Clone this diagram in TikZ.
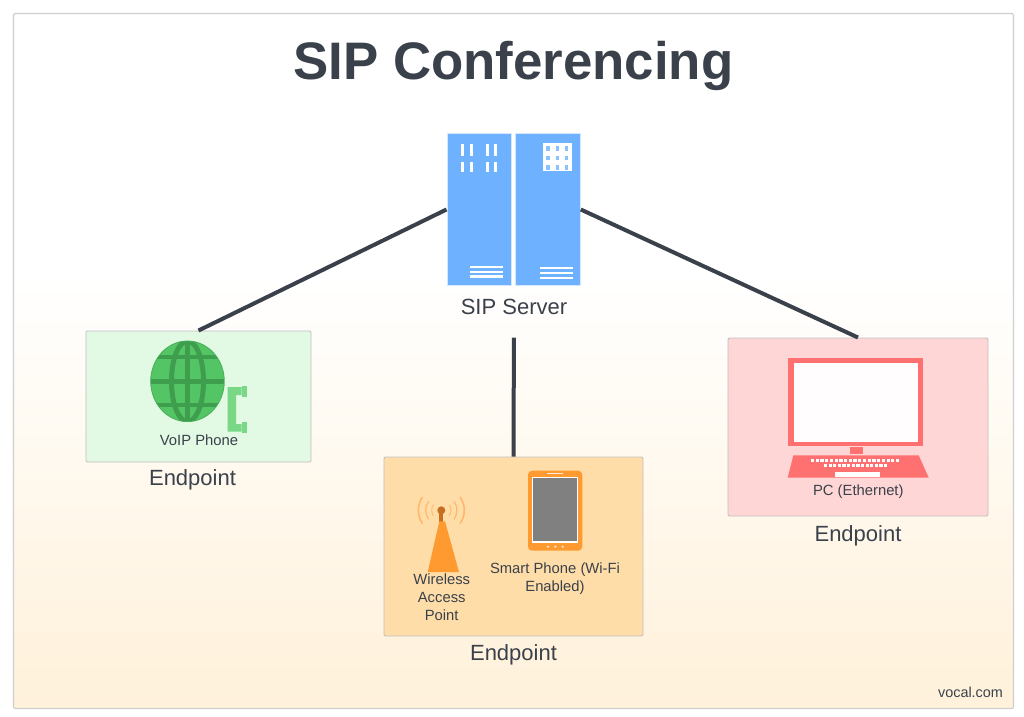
\documentclass[tikz,border=0pt]{standalone}
\usepackage{fontspec}
\setmainfont{Liberation Sans}
\usetikzlibrary{positioning}

\definecolor{ink}{HTML}{3A414A}
\definecolor{frameLine}{HTML}{CFCFCF}
\definecolor{cream}{HTML}{FFF1DA}
\definecolor{serverBlue}{HTML}{6DB1FF}
\definecolor{voipFill}{HTML}{E2F9E3}
\definecolor{globeGreen}{HTML}{54C565}
\definecolor{globeDark}{HTML}{3E9E4E}
\definecolor{handsetGreen}{HTML}{78D885}
\definecolor{wifiFill}{HTML}{FFDDA8}
\definecolor{orangeIcon}{HTML}{FF9A30}
\definecolor{orangeDark}{HTML}{C6701F}
\definecolor{orangeWave}{HTML}{FFB76B}
\definecolor{screenGrey}{HTML}{808080}
\definecolor{pcFill}{HTML}{FFD6D6}
\definecolor{pcRed}{HTML}{FF7070}

\pgfdeclareverticalshading{frameGradient}{100bp}{color(0bp)=(cream); color(25bp)=(cream); color(56bp)=(white); color(100bp)=(white)}

\tikzset{
  rack/.style={fill=serverBlue,draw=white!70!serverBlue,line width=0.6pt,minimum width=48.6pt,minimum height=113.6pt,inner sep=0pt},
  endpointBox/.style={draw=black!25,line width=0.7pt,rounded corners=1pt,inner sep=0pt},
  caption/.style={text=ink,font=\fontsize{16.5}{19}\selectfont,inner sep=0pt},
  smallCaption/.style={text=ink,font=\fontsize{11.1}{13.3}\selectfont,align=center,inner sep=0pt},
  link/.style={draw=ink,line width=3pt}
}

\begin{document}
\begin{tikzpicture}[x=0.75pt,y=-0.75pt]
  \useasboundingbox (0,0) rectangle (1024,717);
  \fill[white] (0,0) rectangle (1024,717);
  \path[shading=frameGradient,rounded corners=1.5pt] (13.5,13.5) rectangle (1013.5,708.5);
  \draw[frameLine,line width=0.9pt,rounded corners=1.5pt] (13.5,13.5) rectangle (1013.5,708.5);

  \node (title)
        [text=ink,font=\fontsize{39.6}{45}\selectfont\bfseries,inner sep=0pt]
        at (513.3,66) {SIP Conferencing};
  \node (vocalMark)
        [text=ink,font=\fontsize{10.8}{13}\selectfont,inner sep=0pt]
        at (970.5,692) {vocal.com};

  \node (rackLeft)  [rack] at (479.3,209.5) {};
  \node (rackRight) [rack] at (548,209.5) {};
  \node (serverLabel)
        [caption]
        at (514,307) {SIP Server};

  \node (voipBox)
        [endpointBox,fill=voipFill,minimum width=168.75pt,minimum height=98.25pt]
        at (198.5,396.5) {};
  \node (wifiBox)
        [endpointBox,fill=wifiFill,minimum width=194.25pt,minimum height=134.25pt]
        at (513.5,546.5) {};
  \node (pcBox)
        [endpointBox,fill=pcFill,minimum width=195pt,minimum height=133.5pt]
        at (858,427) {};

  \node (voipEndpoint) [caption] at (192.5,480) {Endpoint};
  \node (wifiEndpoint) [caption] at (513.5,655) {Endpoint};
  \node (pcEndpoint)   [caption] at (858,536) {Endpoint};

  \draw[link] (rackLeft.west) -- (voipBox.north);
  \draw[link] (rackRight.east) -- (pcBox.north);
  \draw[link,shorten <=17pt] (serverLabel.south) -- (wifiBox.north);

  % left rack
  \foreach \x in {461,469.5,485.7,493.5}
    \foreach \y/\h in {144/11.7,161.7/10}
      \fill[white] (\x,\y) rectangle ++(3.3,\h);
  \foreach \y in {265.5,270.7,275.3}
    \fill[white] (470.3,\y) rectangle ++(32.4,2.2);
  % right rack
  \fill[white] (543,143.3) rectangle (572,171);
  \foreach \x in {546.3,556,565}
    \foreach \y in {146,155.7,165}
      \fill[serverBlue!80!white] (\x,\y) rectangle ++(3.3,4.7);
  \foreach \y in {266.5,271.5,276.5}
    \fill[white] (540.3,\y) rectangle ++(33,2.2);

  % globe
  \begin{scope}
    \clip (187.5,381.3) ellipse [x radius=36.8,y radius=40.3];
    \fill[globeGreen] (187.5,381.3) ellipse [x radius=36.8,y radius=40.3];
    \draw[globeDark,line width=3.7pt] (187.5,330) -- (187.5,430);
    \draw[globeDark,line width=3.7pt] (187.5,381.3) ellipse [x radius=16,y radius=40.3];
    \draw[globeDark,line width=3.7pt] (150,381.5) -- (225,381.5);
    \draw[globeDark,line width=3pt] (150,356.7) -- (225,356.7);
    \draw[globeDark,line width=3pt] (150,404.5) -- (225,404.5);
  \end{scope}
  \draw[globeDark!60!globeGreen,line width=0.6pt] (187.5,381.3) ellipse [x radius=36.8,y radius=40.3];
  % handset
  \fill[handsetGreen] (227.7,387) -- (241.7,387) -- (241.7,395) -- (236,395) -- (236,424)
    -- (241.7,424) -- (241.7,431.7) -- (227.7,431.7) -- cycle;
  \fill[handsetGreen] (241.7,385.7) rectangle (246.7,396.7);
  \fill[handsetGreen] (241.7,421.7) rectangle (246.7,433.3);
  \node (voipLabel) [smallCaption] at (199,440) {VoIP Phone};

  % access point
  \foreach \r/\w in {9.6/0.6,15.6/0.9,23/1.2} {
    \draw[orangeWave,line width=\w pt] (441.3,510.3) ++(-35:\r) arc (-35:35:\r);
    \draw[orangeWave,line width=\w pt] (441.3,510.3) ++(145:\r) arc (145:215:\r);
  }
  \fill[orangeDark] (439.3,510.3) rectangle (443.3,522);
  \fill[orangeDark] (441.3,510.3) circle [radius=4];
  \fill[orangeIcon] (439.3,521.3) -- (445,521.3) -- (459,572) -- (427.7,572) -- cycle;
  \node (apLabel) [smallCaption] at (441.7,597) {Wireless\\Access\\Point};

  % smart phone
  \fill[orangeIcon,rounded corners=3pt] (528,470.7) rectangle (582.3,550.7);
  \fill[white] (532,476.7) rectangle (578.3,542.7);
  \fill[screenGrey] (533.3,478) rectangle (577,541.3);
  \fill[white!85!orangeIcon] (546.7,472.6) rectangle (563.3,474);
  \foreach \x in {548,555.3,562.7}
    \fill[white!85!orangeIcon] (\x,546.7) circle [radius=1.2];
  \node (phoneLabel) [smallCaption] at (555,579) {Smart Phone (Wi-Fi\\Enabled)};

  % laptop
  \fill[pcRed] (788.3,357.7) rectangle (923,446);
  \fill[white!95!pcFill] (794.3,363) rectangle (917.7,442.3);
  \fill[pcRed] (850,447) rectangle (862.7,454);
  \fill[pcRed] (793.3,455.3) -- (918.7,455.3) -- (928.7,477.7) -- (787.7,477.7) -- cycle;
  \foreach \i in {0,...,18}
    \fill[white] ({811+\i*4.72},459.3) rectangle ++(3.2,2.9);
  \foreach \i in {0,...,13}
    \fill[white] ({824+\i*4.62},464.3) rectangle ++(3.2,2.9);
  \fill[white] (835.3,472) rectangle (880.3,476.7);
  \node (pcLabel) [smallCaption] at (858.3,491.7) {PC (Ethernet)};
\end{tikzpicture}
\end{document}
